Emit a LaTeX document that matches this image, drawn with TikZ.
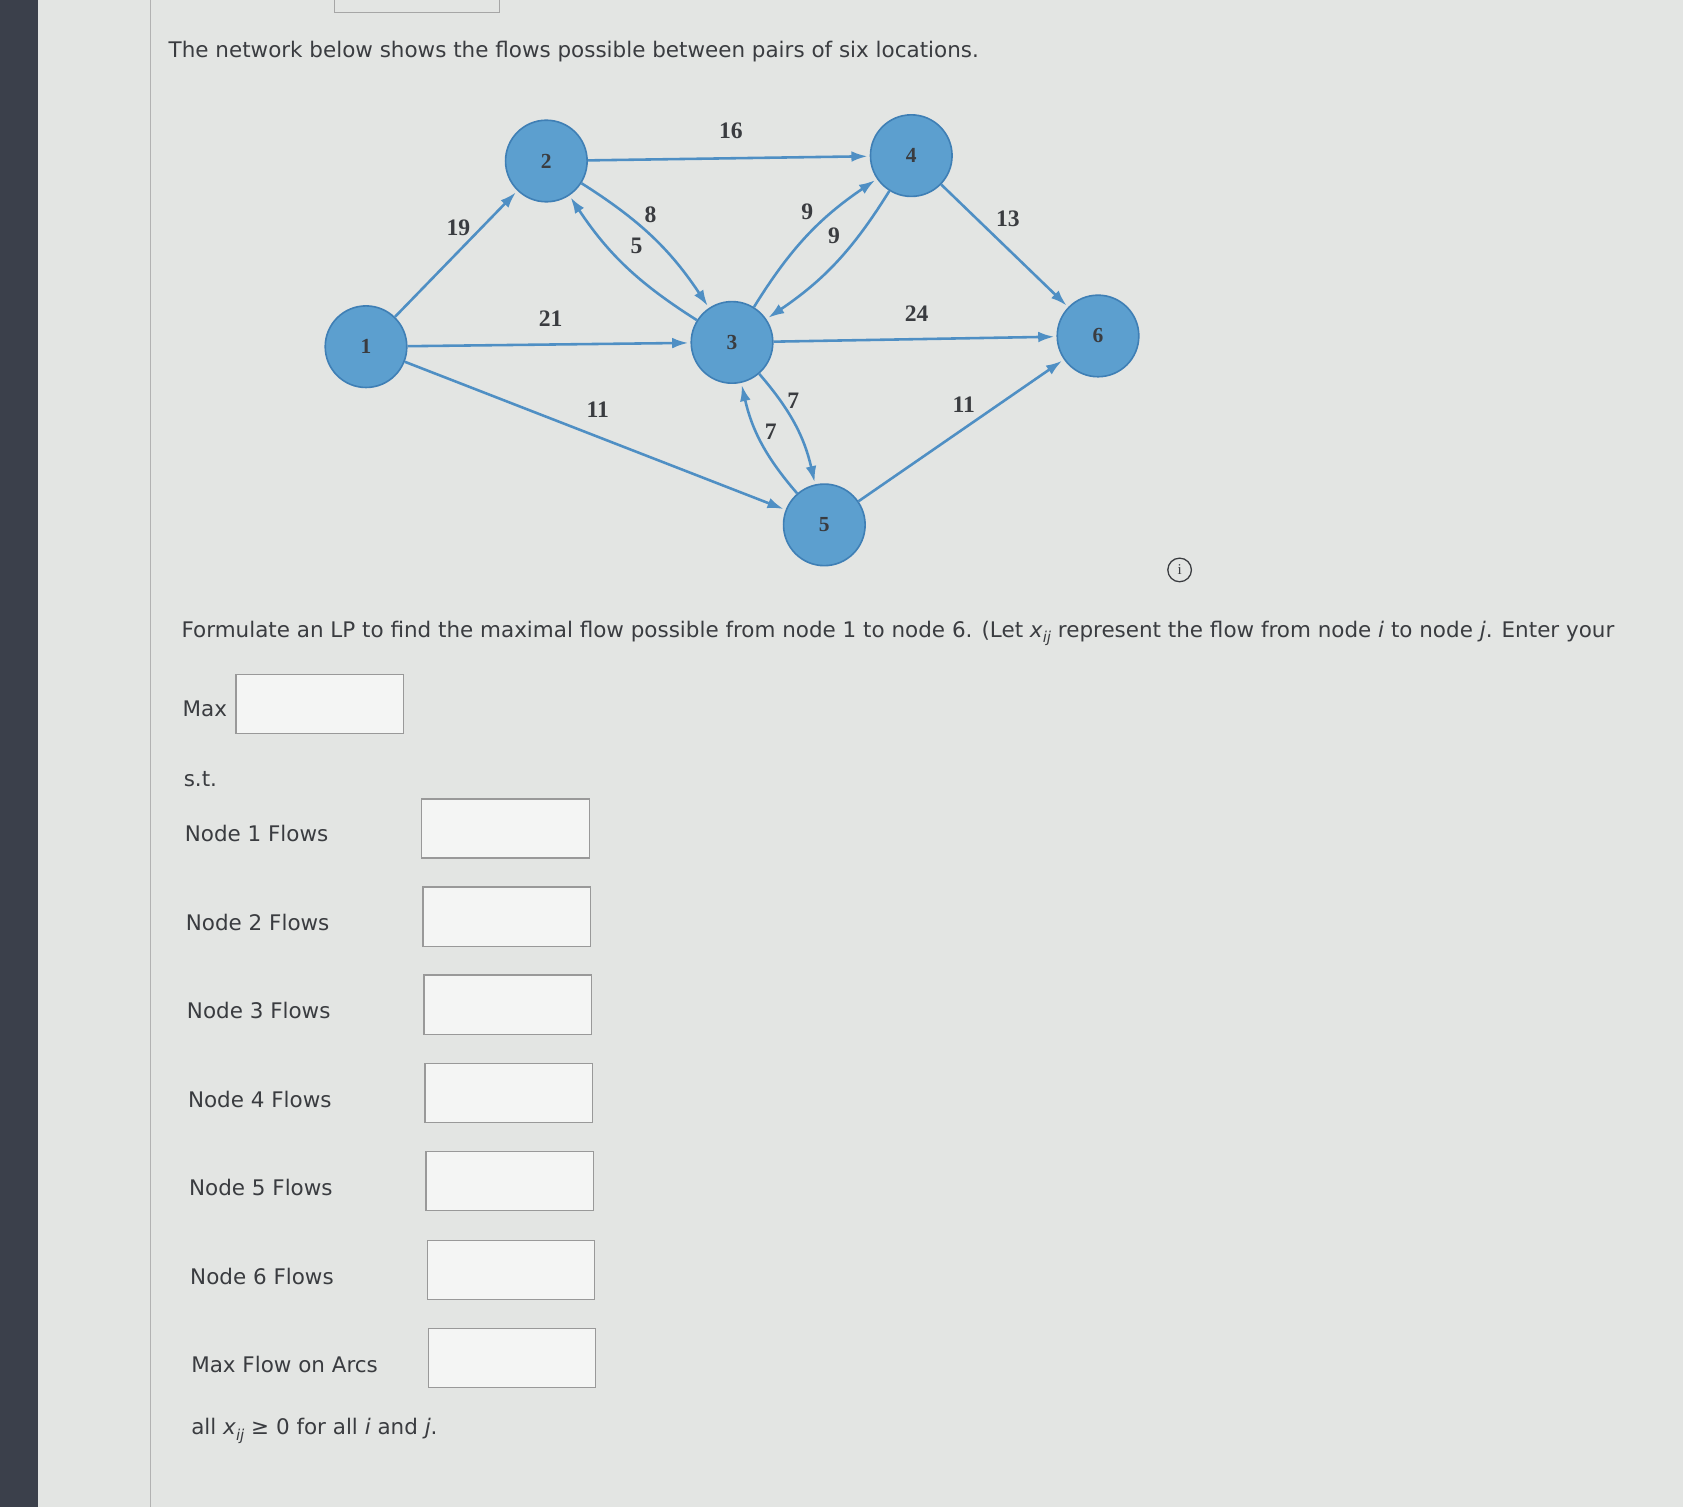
\documentclass[tikz,border=0pt]{standalone}
\usepackage{fontspec}
\setmainfont{DejaVu Sans}
\newfontfamily\labfont{Liberation Serif}
\usetikzlibrary{arrows.meta}
\definecolor{bg}{HTML}{E3E5E3}
\definecolor{darkstrip}{HTML}{3B404B}
\definecolor{nodefill}{HTML}{5C9FCF}
\definecolor{nodeedge}{HTML}{3F7FB5}
\definecolor{edgec}{HTML}{4F8FC4}
\definecolor{txt}{HTML}{3A3C40}
\tikzset{
  vert/.style={circle,fill=nodefill,draw=nodeedge,line width=1.5pt,minimum size=76pt,inner sep=0pt,font=\fontsize{20}{20}\selectfont\bfseries\labfont,text=txt},
  arc/.style={draw=edgec,line width=2.4pt,-{Latex[length=15pt,width=10pt]},shorten >=2pt},
  lab/.style={font=\fontsize{22}{22}\selectfont\bfseries\labfont,text=txt},
  body/.style={font=\fontsize{20}{24}\selectfont,text=txt,anchor=west,inner sep=0pt},
  ansbox/.style={draw=gray!80,line width=1.2pt,fill=white!60!bg,minimum width=156pt,minimum height=55pt,inner sep=0pt}
}
\begin{document}
\begin{tikzpicture}[x=1pt,y=-1pt]
\useasboundingbox (0,0) rectangle (1568,1404);
\fill[bg] (0,0) rectangle (1568,1404);
\fill[darkstrip] (0,0) rectangle (35,1404);
\draw[gray!60,line width=1pt] (140,0) -- (140,1404);
\draw[gray!70,line width=1pt] (312,0) -- (312,12) -- (465,12) -- (465,0);
\node (title) [body] at (157,48) {The network below shows the flows possible between pairs of six locations.};
\node[vert] (n1) at (341,323) {1};
\node[vert] (n2) at (509,150) {2};
\node[vert] (n3) at (682,319) {3};
\node[vert] (n4) at (849,145) {4};
\node[vert] (n5) at (768,489) {5};
\node[vert] (n6) at (1023,313) {6};
\draw[arc] (n1) -- (n2);
\draw[arc] (n2) -- (n4);
\draw[arc] (n1) -- (n3);
\draw[arc] (n1) -- (n5);
\draw[arc] (n3) -- (n6);
\draw[arc] (n4) -- (n6);
\draw[arc] (n5) -- (n6);
\draw[arc] (n2) to[bend left=12] (n3);
\draw[arc] (n3) to[bend left=12] (n2);
\draw[arc] (n3) to[bend left=12] (n4);
\draw[arc] (n4) to[bend left=12] (n3);
\draw[arc] (n3) to[bend left=14] (n5);
\draw[arc] (n5) to[bend left=14] (n3);
\node[lab] (l19) at (427,212) {19};
\node[lab] (l16) at (681,122) {16};
\node[lab] (l21) at (513,297) {21};
\node[lab] (l11a) at (557,382) {11};
\node[lab] (l8) at (606,200) {8};
\node[lab] (l5) at (593,229) {5};
\node[lab] (l9a) at (752,197) {9};
\node[lab] (l9b) at (777,220) {9};
\node[lab] (l24) at (854,292) {24};
\node[lab] (l13) at (939,204) {13};
\node[lab] (l7a) at (739,373) {7};
\node[lab] (l7b) at (718,402) {7};
\node[lab] (l11b) at (898,377) {11};
\node[circle,draw=txt,line width=1.2pt,minimum size=22pt,inner sep=0pt,font=\fontsize{14}{14}\selectfont\labfont,text=txt] (info) at (1099,531) {i};
\node (form) [body] at (169,590) {Formulate an LP to find the maximal flow possible from node 1 to node 6. (Let \textit{x}\raisebox{-5pt}{\fontsize{14}{14}\selectfont\textit{ij}} represent the flow from node \textit{i} to node \textit{j}. Enter your};
\node (max) [body] at (170,660) {Max};
\node[ansbox] (bmax) at (298,656) {};
\node (st) [body] at (171,726) {s.t.};
\node (t1) [body] at (172,777) {Node 1 Flows};
\node (t2) [body] at (173,859) {Node 2 Flows};
\node (t3) [body] at (174,941) {Node 3 Flows};
\node (t4) [body] at (175,1024) {Node 4 Flows};
\node (t5) [body] at (176,1106) {Node 5 Flows};
\node (t6) [body] at (177,1189) {Node 6 Flows};
\node (t7) [body] at (178,1271) {Max Flow on Arcs};
\node[ansbox] (b1) at (471,772) {};
\node[ansbox] (b2) at (472,854) {};
\node[ansbox] (b3) at (473,936) {};
\node[ansbox] (b4) at (474,1018) {};
\node[ansbox] (b5) at (475,1100) {};
\node[ansbox] (b6) at (476,1183) {};
\node[ansbox] (b7) at (477,1265) {};
\node (all) [body] at (178,1333) {all \textit{x}\raisebox{-5pt}{\fontsize{14}{14}\selectfont\textit{ij}} ≥ 0 for all \textit{i} and \textit{j}.};
\end{tikzpicture}
\end{document}
